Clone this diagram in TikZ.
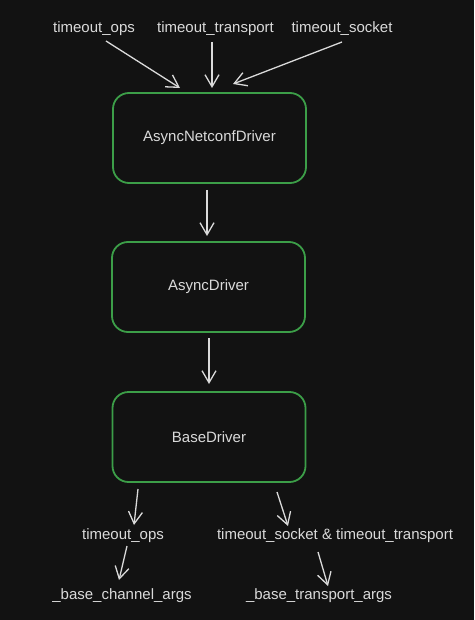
\documentclass[tikz,border=0pt]{standalone}
\usepackage{fontspec}
\setmainfont{Liberation Sans}
\usetikzlibrary{arrows.meta}
\definecolor{bg}{HTML}{121212}
\definecolor{boxgreen}{HTML}{3C9E48}
\definecolor{txt}{HTML}{DADADA}
\begin{document}
\begin{tikzpicture}[x=1pt,y=-1pt,
  drv/.style={draw=boxgreen, line width=1.8pt, rounded corners=16pt, minimum width=193pt, minimum height=90pt, text=txt, font=\fontsize{15}{17}\selectfont, inner sep=0pt},
  lbl/.style={text=txt, font=\fontsize{15}{17}\selectfont, inner sep=1pt},
  arr/.style={draw=txt, line width=1.3pt, -{Straight Barb[length=12pt,width=14pt,line width=1.3pt]}}]
\fill[bg] (0,0) rectangle (474,620);
\useasboundingbox (0,0) rectangle (474,620);
\node[lbl] (to1) at (94,29) {timeout\_ops};
\node[lbl] (tt1) at (215.5,29) {timeout\_transport};
\node[lbl] (ts1) at (342,29) {timeout\_socket};
\node[drv] (and) at (209.5,138) {AsyncNetconfDriver};
\node[drv] (ad) at (208.5,287) {AsyncDriver};
\node[drv] (bd) at (209,437) {BaseDriver};
\node[lbl] (to2) at (123,536) {timeout\_ops};
\node[lbl] (tst) at (335,536) {timeout\_socket \& timeout\_transport};
\node[lbl] (bca) at (122,596) {\_base\_channel\_args};
\node[lbl] (bta) at (319,596) {\_base\_transport\_args};
\coordinate (a1s) at (106,41); \coordinate (a1e) at (180,88);
\coordinate (a2s) at (212,42); \coordinate (a2e) at (212,88);
\coordinate (a3s) at (342,42); \coordinate (a3e) at (233,84);
\coordinate (b1s) at (207,190); \coordinate (b1e) at (207,236);
\coordinate (b2s) at (209,338); \coordinate (b2e) at (209,384);
\coordinate (c1s) at (138,489); \coordinate (c1e) at (134,525);
\coordinate (c2s) at (277,492); \coordinate (c2e) at (288,526);
\coordinate (d1s) at (127,546); \coordinate (d1e) at (119,580);
\coordinate (d2s) at (318,552); \coordinate (d2e) at (328,586);
\draw[arr] (a1s) -- (a1e);
\draw[arr] (a2s) -- (a2e);
\draw[arr] (a3s) -- (a3e);
\draw[arr] (b1s) -- (b1e);
\draw[arr] (b2s) -- (b2e);
\draw[arr] (c1s) -- (c1e);
\draw[arr] (c2s) -- (c2e);
\draw[arr] (d1s) -- (d1e);
\draw[arr] (d2s) -- (d2e);
\end{tikzpicture}
\end{document}
